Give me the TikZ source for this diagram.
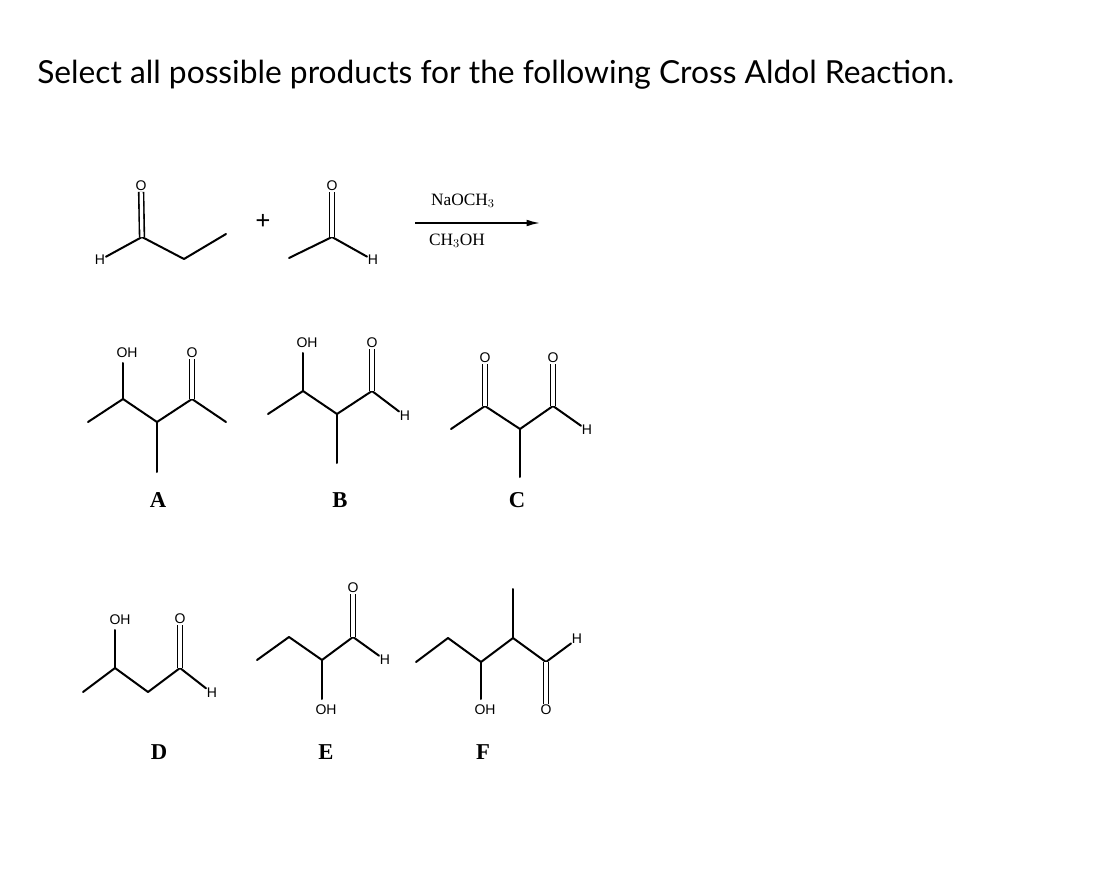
\documentclass[tikz,border=0pt]{standalone}
\usetikzlibrary{arrows.meta}
\usepackage{fontspec}
\setmainfont{Liberation Serif}
\newfontfamily\titlefont{Lato}
\newfontfamily\atomfont{Liberation Sans}
\begin{document}
\begin{tikzpicture}[x=0.75pt,y=-0.75pt,
  bond/.style={line width=1.5pt,line cap=round,line join=round},
  dbl/.style={line width=1.2pt,double,double distance=2.4pt},
  atom/.style={font=\atomfont\fontsize{10.5}{10.5}\selectfont,inner sep=0.5pt},
  lbl/.style={font=\fontsize{17}{17}\selectfont\bfseries,inner sep=0pt},
  reag/.style={font=\fontsize{13}{13}\selectfont,inner sep=0pt}]
\useasboundingbox (0,0) rectangle (1108,888);
\node[anchor=west,font=\titlefont\fontsize{23.8}{23.8}\selectfont,inner sep=0pt] (title) at (37,75) {Select all possible products for the following Cross Aldol Reaction.};
% reactant 1
\node[atom] (h1) at (100,260) {H};
\node[atom] (o1) at (141,186) {O};
\coordinate (c1) at (142,237);
\draw[bond] (h1) -- (c1) -- (184,259) -- (226,234);
\draw[dbl] (c1) -- (o1);
\node[font=\fontsize{20}{20}\selectfont\bfseries,inner sep=0pt] (plus) at (263,222) {+};
% reactant 2
\node[atom] (h2) at (373,260) {H};
\node[atom] (o2) at (332,186) {O};
\coordinate (c2) at (332,237);
\draw[bond] (289,258) -- (c2) -- (h2);
\draw[dbl] (c2) -- (o2);
% arrow
\coordinate (a1) at (415,223);
\coordinate (a2) at (540,223);
\draw[line width=1.2pt,-{Latex[length=10pt,width=5pt]}] (a1) -- (a2);
\node[reag] (r1) at (463,201) {NaOCH$_3$};
\node[reag] (r2) at (457,241) {CH$_3$OH};
% A
\node[atom] (aoh) at (127,353) {OH};
\node[atom] (ao) at (192,353) {O};
\coordinate (ac1) at (123,399); \coordinate (ac2) at (157,422); \coordinate (ac3) at (192,399);
\draw[bond] (88,422) -- (ac1) -- (ac2) -- (ac3) -- (226,422);
\draw[bond] (ac2) -- (157,472);
\draw[bond] (ac1) -- (123,363);
\draw[dbl] (ac3) -- (ao);
\node[lbl] (la) at (158,500) {A};
% B
\node[atom] (boh) at (307,343) {OH};
\node[atom] (bo) at (372,343) {O};
\node[atom] (bh) at (405,416) {H};
\coordinate (bc1) at (303,391); \coordinate (bc2) at (337,414); \coordinate (bc3) at (372,391);
\draw[bond] (268,414) -- (bc1) -- (bc2) -- (bc3) -- (bh);
\draw[bond] (bc2) -- (337,463);
\draw[bond] (bc1) -- (303,353);
\draw[dbl] (bc3) -- (bo);
\node[lbl] (lb) at (340,500) {B};
% C
\node[atom] (co1) at (485,358) {O};
\node[atom] (co2) at (553,358) {O};
\node[atom] (ch) at (587,430) {H};
\coordinate (cc1) at (485,406); \coordinate (cc2) at (520,429); \coordinate (cc3) at (553,406);
\draw[bond] (451,429) -- (cc1) -- (cc2) -- (cc3) -- (ch);
\draw[bond] (cc2) -- (520,477);
\draw[dbl] (cc1) -- (co1);
\draw[dbl] (cc3) -- (co2);
\node[lbl] (lc) at (517,500) {C};
% D
\node[atom] (doh) at (120,620) {OH};
\node[atom] (do) at (180,619) {O};
\node[atom] (dh) at (212,693) {H};
\coordinate (dc1) at (115,668); \coordinate (dc2) at (148,692); \coordinate (dc3) at (180,668);
\draw[bond] (83,692) -- (dc1) -- (dc2) -- (dc3) -- (dh);
\draw[bond] (dc1) -- (115,630);
\draw[dbl] (dc3) -- (do);
\node[lbl] (ld) at (159,752) {D};
% E
\node[atom] (eoh) at (326,710) {OH};
\node[atom] (eo) at (353,588) {O};
\node[atom] (eh) at (385,660) {H};
\coordinate (ec1) at (289,637); \coordinate (ec2) at (322,660); \coordinate (ec3) at (353,637);
\draw[bond] (257,660) -- (ec1) -- (ec2) -- (ec3) -- (eh);
\draw[bond] (ec2) -- (322,699);
\draw[dbl] (ec3) -- (eo);
\node[lbl] (le) at (326,752) {E};
% F
\node[atom] (foh) at (485,710) {OH};
\node[atom] (fo) at (546,710) {O};
\node[atom] (fh) at (577,639) {H};
\coordinate (fc1) at (448,638); \coordinate (fc2) at (481,662); \coordinate (fc3) at (513,638); \coordinate (fc4) at (546,662);
\draw[bond] (416,662) -- (fc1) -- (fc2) -- (fc3) -- (fc4) -- (fh);
\draw[bond] (fc3) -- (513,589);
\draw[bond] (fc2) -- (481,699);
\draw[dbl] (fc4) -- (fo);
\node[lbl] (lf) at (483,752) {F};
\end{tikzpicture}
\end{document}
